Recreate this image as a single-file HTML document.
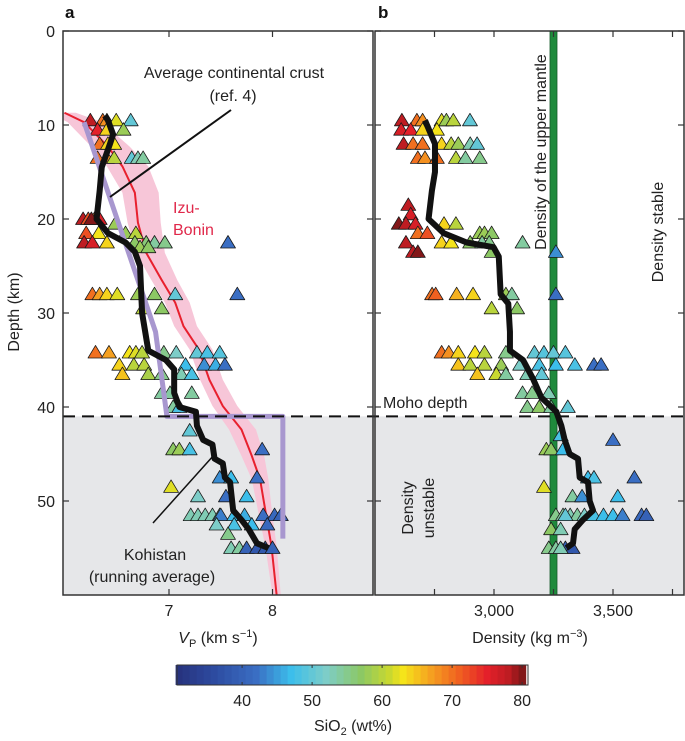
<!DOCTYPE html>
<html><head><meta charset="utf-8"><style>
html,body{margin:0;padding:0;background:#fff}
svg{display:block;font-family:"Liberation Sans",Arial,sans-serif}
</style></head><body>
<svg id="fig" width="685" height="741" viewBox="0 0 685 741" xmlns="http://www.w3.org/2000/svg">
<g id="base"></g>
</svg>
<script>
// ---- data ----
// Panel a samples
const aDepth = [9.5,9.5,9.5,9.5,9.5,10.5,10.5,10.5,12,12,12,13.5,13.5,13.5,13.5,13.5,13.5,
 20,20,20,20,20,20.5,21.5,21.5,21.5,21.5,22.5,22.5,22.5,22.5,22.5,22.5,22.5,22.5,23,23,
 28,28,28,28,28,28,28,28,29.5,29.5,
 34.2,34.2,34.2,34.2,34.2,34.2,34.2,34.2,34.2,34.2,35.5,35.5,35.5,35.5,35.5,35.5,35.5,36.5,36.5,36.5,36.5,36.5,
 38.5,38.5,38.5,40,40,42.5,44.5,44.5,44.5,44.5,47.5,47.5,47.5,48.5,49.5,49.5,49.5,
 51.5,51.5,51.5,51.5,51.5,51.5,51.5,51.5,51.5,51.5,51.5,52.5,52.5,52.5,52.5,53.5,55,55,55,55,55,55];
const aVp = [6.24,6.36,6.40,6.49,6.63,6.31,6.40,6.56,6.33,6.41,6.47,6.64,6.70,6.75,6.31,6.40,6.47,
 6.17,6.22,6.28,6.33,6.25,6.48,6.20,6.32,6.58,6.68,6.18,6.26,6.40,6.67,6.78,6.86,6.96,7.57,6.72,6.80,
 6.26,6.33,6.40,6.50,6.70,6.86,7.06,7.66,6.93,6.75,
 6.29,6.42,6.62,6.68,6.74,6.95,7.07,7.27,7.37,7.49,6.52,6.66,6.76,7.16,7.34,7.45,7.54,6.55,6.80,6.93,7.12,7.22,
 6.93,7.01,7.22,7.04,7.10,7.20,7.04,7.10,7.20,7.90,7.49,7.60,7.85,7.02,7.28,7.55,7.75,
 7.21,7.28,7.35,7.42,7.49,7.50,7.63,7.73,7.91,8.02,8.08,7.46,7.63,7.80,7.95,7.57,7.60,7.68,7.75,7.85,7.93,8.00];
const aSio2 = [78,70,68,62,50,75,64,58,70,64,63,50,53,54,70,68,60,
 78,72,70,76,80,58,72,63,58,60,78,76,64,57,56,54,55,42,58,57,
 70,67,64,62,58,57,50,42,57,60,
 70,67,63,62,60,55,52,50,48,49,64,60,60,47,44,46,42,65,59,55,53,48,
 54,54,54,54,48,50,57,58,48,42,44,47,42,62,52,42,47,
 53,53,53,53,53,43,47,46,42,41,40,52,48,47,41,55,53,54,40,38,38,40];
// Panel b samples
const bDepth = [9.5,9.5,9.5,9.5,9.5,9.5,9.5,10.5,10.5,10.5,10.5,12,12,12,12,12,12,12,12,13.5,13.5,13.5,13.5,13.5,13.5,
 18.5,19.5,20.5,20.5,20.5,20.5,20.5,21.5,21.5,21.5,21.5,21.5,22.5,22.5,22.5,22.5,22.5,22.5,22.5,23.5,23.5,23.5,23.5,
 28,28,28,28,28,28,28,29.5,29.5,
 34.2,34.2,34.2,34.2,34.2,34.2,34.2,34.2,34.2,34.2,35.5,35.5,35.5,35.5,35.5,35.5,35.5,35.5,35.5,35.5,36.5,36.5,36.5,36.5,36.5,
 38.5,38.5,38.5,40,40,40,40,43,43.5,44.5,44.5,44.5,47.5,47.5,47.5,48.5,49.5,49.5,49.5,
 51.5,51.5,51.5,51.5,51.5,51.5,51.5,51.5,51.5,51.5,51.5,51.5,53,53,55,55,55,55,55];
const bRho = [2613,2676,2700,2780,2800,2829,2899,2610,2650,2700,2760,2620,2660,2700,2780,2820,2850,2900,2929,2680,2710,2760,2840,2880,2940,
 2640,2650,2600,2630,2670,2790,2840,2680,2720,2940,2960,2990,2630,2780,2820,2900,2950,2980,3120,2660,2680,2990,3260,
 2740,2755,2843,2912,3050,3075,3260,2990,3097,
 2780,2810,2850,2920,2960,3050,3170,3210,3250,3300,2850,2900,2960,3030,3110,3190,3260,3340,3420,3450,2930,3010,3050,3140,3200,
 3120,3160,3230,3140,3190,3240,3310,3280,3500,3220,3240,3290,3395,3420,3590,3210,3330,3370,3520,
 3260,3290,3320,3350,3380,3420,3460,3500,3540,3620,3640,3300,3240,3280,3230,3260,3300,3330,3280];
const bSio2 = [78,70,68,62,58,60,50,76,75,64,63,78,70,70,64,60,58,53,50,70,68,70,60,54,55,
 78,76,80,78,76,64,60,70,72,58,58,57,78,64,63,57,54,55,54,78,80,57,44,
 70,71,66,64,58,54,42,60,57,
 70,68,64,63,60,55,50,49,50,49,65,60,60,58,52,48,47,48,42,42,65,61,54,53,50,
 54,55,53,55,57,54,50,48,42,58,57,47,47,48,42,62,54,44,47,
 55,54,53,54,52,48,47,47,43,41,40,50,57,53,55,54,40,38,53];
// Running averages
const avgADepth = [9,9.5,11,12,14.5,17,20,21.5,22.5,23.5,25,30,34,35,36,38.5,40,40.5,42,43.5,44,45.5,46,47.5,48,51,52,53,54.5,55];
const avgAVp = [6.38,6.41,6.46,6.43,6.35,6.33,6.30,6.41,6.58,6.67,6.72,6.74,6.80,6.97,7.05,7.05,7.10,7.26,7.27,7.33,7.42,7.44,7.52,7.54,7.59,7.62,7.70,7.77,7.85,7.96];
const avgBDepth = [9.5,12,15,17,20,21.5,22.5,23,24,28,29,32,34,35,37,39,40.5,42,43.5,45,45.5,47.5,48,50,51,52,53,54.5,55];
const avgBRho = [2710,2752,2752,2739,2725,2788,2885,2998,3020,3028,3060,3067,3067,3122,3164,3199,3262,3283,3297,3318,3353,3360,3395,3402,3416,3374,3339,3332,3304];
// Izu-Bonin
const izuDepth = [8.7,9.7,12.3,14.4,17.2,20.4,23.6,26.5,28.9,31.4,33.9,37.1,39.9,42.4,45.2,47.7,51.6,54.8,60];
const izuVp = [5.99,6.18,6.41,6.55,6.67,6.70,6.78,6.93,7.06,7.14,7.29,7.39,7.52,7.70,7.80,7.88,7.94,7.99,8.04];
const izuLo = [5.85,6.02,6.25,6.40,6.55,6.60,6.68,6.83,6.96,7.05,7.20,7.30,7.42,7.58,7.70,7.80,7.87,7.93,8.00];
const izuHi = [6.10,6.35,6.62,6.80,6.90,6.92,6.96,7.08,7.20,7.27,7.42,7.52,7.66,7.84,7.92,7.96,8.00,8.04,8.08];
// Average continental crust
const crustDepth = [9.7,32,41,41,54];
const crustVp = [6.18,6.87,6.98,8.10,8.10];
// axes
const depthTicks = [0,10,20,30,40,50];
const vpTicks = [7,8];
const rhoTicks = [2750,3000,3250,3500,3750];
const rhoTickLabels = ["","3,000","","3,500",""];
const cbTicks = [40,50,60,70,80];
const mohoDepth = [41];
const mantleRho = [3250];

// ---- scales ----
const TOP=31, BOT=595, AL=63, AR=373, BR=684;
function ya(d){return TOP + d*9.4;}
function xa(v){return 169 + (v-7)*103.5;}
function xb(r){return 494 + (r-3000)*0.238;}
function xc(s){return 177 + (s-30.7)*7.0;}
const stops=[[30,[38,46,120]],[36,[45,75,160]],[42,[58,110,195]],[47,[60,190,235]],[52,[125,205,200]],[57,[140,200,100]],[61,[200,216,48]],[63,[245,228,26]],[67,[245,160,32]],[71,[240,96,32]],[75,[228,32,42]],[78,[190,28,34]],[81,[100,20,20]]];
function col(s){
  if(s<=stops[0][0]) return 'rgb('+stops[0][1]+')';
  for(let i=1;i<stops.length;i++){ if(s<=stops[i][0]){const a=stops[i-1],b=stops[i],t=(s-a[0])/(b[0]-a[0]);
    const c=a[1].map((v,k)=>Math.round(v+(b[1][k]-v)*t)); return 'rgb('+c.join(',')+')';}}
  return 'rgb('+stops[stops.length-1][1]+')';
}
const NS='http://www.w3.org/2000/svg';
const svg=document.getElementById('fig');
function mk(tag,attrs,parent){const e=document.createElementNS(NS,tag);for(const k in attrs)e.setAttribute(k,attrs[k]);(parent||svg).appendChild(e);return e;}
function txt(s,x,y,attrs){const e=mk('text',Object.assign({x:x,y:y,'font-size':16,fill:'#222'},attrs||{}));e.textContent=s;return e;}
function tri(x,y,c){const p=(x)+','+(y-7)+' '+(x-7.5)+','+(y+5.5)+' '+(x+7.5)+','+(y+5.5);return mk('polygon',{points:p,fill:c,stroke:'#1a1a1a','stroke-width':0.8,'stroke-linejoin':'round'});}

let g=mk('rect',{x:AL,y:ya(mohoDepth[0]),width:BR-AL,height:BOT-ya(mohoDepth[0]),fill:'#e6e7e9'});


g=mk('rect',{x:xb(mantleRho[0])-3.5,y:TOP,width:7,height:BOT-TOP,fill:'#1f8a3c',stroke:'#145a28','stroke-width':0.8});



let pts=[];for(let i=0;i<izuDepth.length;i++)pts.push(xa(izuLo[i])+','+ya(izuDepth[i]));
for(let i=izuDepth.length-1;i>=0;i--)pts.push(xa(izuHi[i])+','+ya(izuDepth[i]));
const cp=mk('clipPath',{id:'clipA'});mk('rect',{x:AL,y:TOP,width:AR-AL,height:BOT-TOP},cp);
g=mk('polygon',{points:pts.join(' '),fill:'#f7c6d8','clip-path':'url(#clipA)'});


g=mk('polyline',{points:izuDepth.map((d,i)=>xa(izuVp[i])+','+ya(d)).join(' '),fill:'none',stroke:'#e8202e','stroke-width':2,'clip-path':'url(#clipA)'});



const gA=mk('g',{'clip-path':'url(#clipA)'});


for(let i=0;i<aDepth.length;i++){
  const t=tri(xa(aVp[i]),ya(aDepth[i]),col(aSio2[i]));gA.appendChild(t);
  
  
}
g=mk('polyline',{points:crustDepth.map((d,i)=>xa(crustVp[i])+','+ya(d)).join(' '),fill:'none',stroke:'#a897cf','stroke-width':5,'stroke-linejoin':'round'});


g=mk('polyline',{points:avgADepth.map((d,i)=>xa(avgAVp[i])+','+ya(d)).join(' '),fill:'none',stroke:'#111','stroke-width':6,'stroke-linejoin':'round'});



const gB=mk('g',{});


for(let i=0;i<bDepth.length;i++){
  const t=tri(xb(bRho[i]),ya(bDepth[i]),col(bSio2[i]));gB.appendChild(t);
  
  
}
g=mk('polyline',{points:avgBDepth.map((d,i)=>xb(avgBRho[i])+','+ya(d)).join(' '),fill:'none',stroke:'#111','stroke-width':6,'stroke-linejoin':'round'});



g=mk('line',{x1:AL,x2:BR,y1:ya(mohoDepth[0]),y2:ya(mohoDepth[0]),stroke:'#111','stroke-width':2,'stroke-dasharray':'12,7'});



g=mk('rect',{x:AL,y:TOP,width:AR-AL,height:BOT-TOP,fill:'none',stroke:'#333','stroke-width':1.5});


g=mk('rect',{x:AR+2,y:TOP,width:BR-AR-2,height:BOT-TOP,fill:'none',stroke:'#333','stroke-width':1.5});



depthTicks.forEach(d=>{
  const y=ya(d);
  mk('line',{x1:AL,x2:AL+6,y1:y,y2:y,stroke:'#333','stroke-width':1.2});
  mk('line',{x1:AR-6,x2:AR,y1:y,y2:y,stroke:'#333','stroke-width':1.2});
  mk('line',{x1:AR+2,x2:AR+8,y1:y,y2:y,stroke:'#333','stroke-width':1.2});
  mk('line',{x1:BR-6,x2:BR,y1:y,y2:y,stroke:'#333','stroke-width':1.2});
  const t=txt(String(d),55,y+6,{'text-anchor':'end'});
  
  
});
vpTicks.forEach(v=>{
  const x=xa(v);
  mk('line',{x1:x,x2:x,y1:BOT,y2:BOT-6,stroke:'#333','stroke-width':1.2});
  mk('line',{x1:x,x2:x,y1:TOP,y2:TOP+6,stroke:'#333','stroke-width':1.2});
  const t=txt(String(v),x,616,{'text-anchor':'middle'});
  
  
});
rhoTicks.forEach((r,i)=>{
  const x=xb(r);
  mk('line',{x1:x,x2:x,y1:BOT,y2:BOT-6,stroke:'#333','stroke-width':1.2});
  mk('line',{x1:x,x2:x,y1:TOP,y2:TOP+6,stroke:'#333','stroke-width':1.2});
  const t=txt(rhoTickLabels[i],x,616,{'text-anchor':'middle'});
  
  
});

const cbVals=[];for(let s=31;s<=80.5;s+=1)cbVals.push(s);
const gc=mk('g',{});


cbVals.forEach(s=>{mk('rect',{x:xc(s-0.5),y:665,width:7.6,height:20,fill:col(s)},gc);});
mk('rect',{x:177,y:665,width:351,height:20,fill:'none',stroke:'#333','stroke-width':1},gc);
cbTicks.forEach(s=>{
  mk('line',{x1:xc(s),x2:xc(s),y1:665,y2:668,stroke:'#333'},gc);
  mk('line',{x1:xc(s),x2:xc(s),y1:682,y2:685,stroke:'#333'},gc);
  const t=txt(String(s),xc(s),706,{'text-anchor':'middle'});
  
  
});
</script>
<svg width="685" height="741" viewBox="0 0 685 741" style="position:absolute;left:0;top:0;font-family:'Liberation Sans',Arial,sans-serif">
<text x="65" y="18" font-size="17" font-weight="bold" fill="#111">a</text>
<text x="378" y="18" font-size="17" font-weight="bold" fill="#111">b</text>
<text transform="translate(19,312) rotate(-90)" text-anchor="middle" font-size="16" fill="#222">Depth (km)</text>
<text x="234" y="78" text-anchor="middle" font-size="16" fill="#222">Average continental crust</text>
<text x="233" y="101" text-anchor="middle" font-size="16" fill="#222">(ref. 4)</text>
<line x1="231" y1="110" x2="110" y2="197" stroke="#111" stroke-width="2"/>
<text x="173" y="213" font-size="16" fill="#e0284a">Izu-</text>
<text x="173" y="235" font-size="16" fill="#e0284a">Bonin</text>
<line x1="153" y1="523" x2="214" y2="455" stroke="#111" stroke-width="1.5"/>
<text x="155" y="560" text-anchor="middle" font-size="16" fill="#222">Kohistan</text>
<text x="152" y="582" text-anchor="middle" font-size="16" fill="#222">(running average)</text>
<text x="383" y="408" font-size="16" fill="#222">Moho depth</text>
<text transform="translate(546,152) rotate(-90)" text-anchor="middle" font-size="16" fill="#222">Density of the upper mantle</text>
<text transform="translate(663,232) rotate(-90)" text-anchor="middle" font-size="16" fill="#222">Density stable</text>
<text transform="translate(413,508) rotate(-90)" text-anchor="middle" font-size="16" fill="#222">Density</text>
<text transform="translate(434,508) rotate(-90)" text-anchor="middle" font-size="16" fill="#222">unstable</text>
<text x="218" y="643" text-anchor="middle" font-size="16" fill="#222"><tspan font-style="italic">V</tspan><tspan font-size="11" dy="4">P</tspan><tspan dy="-4"> (km s</tspan><tspan font-size="11" dy="-6">−1</tspan><tspan dy="6">)</tspan></text>
<text x="530" y="643" text-anchor="middle" font-size="16" fill="#222">Density (kg m<tspan font-size="11" dy="-6">−3</tspan><tspan dy="6">)</tspan></text>
<text x="353" y="731" text-anchor="middle" font-size="16" fill="#222">SiO<tspan font-size="11" dy="4">2</tspan><tspan dy="-4"> (wt%)</tspan></text>
</svg>
</body></html>
